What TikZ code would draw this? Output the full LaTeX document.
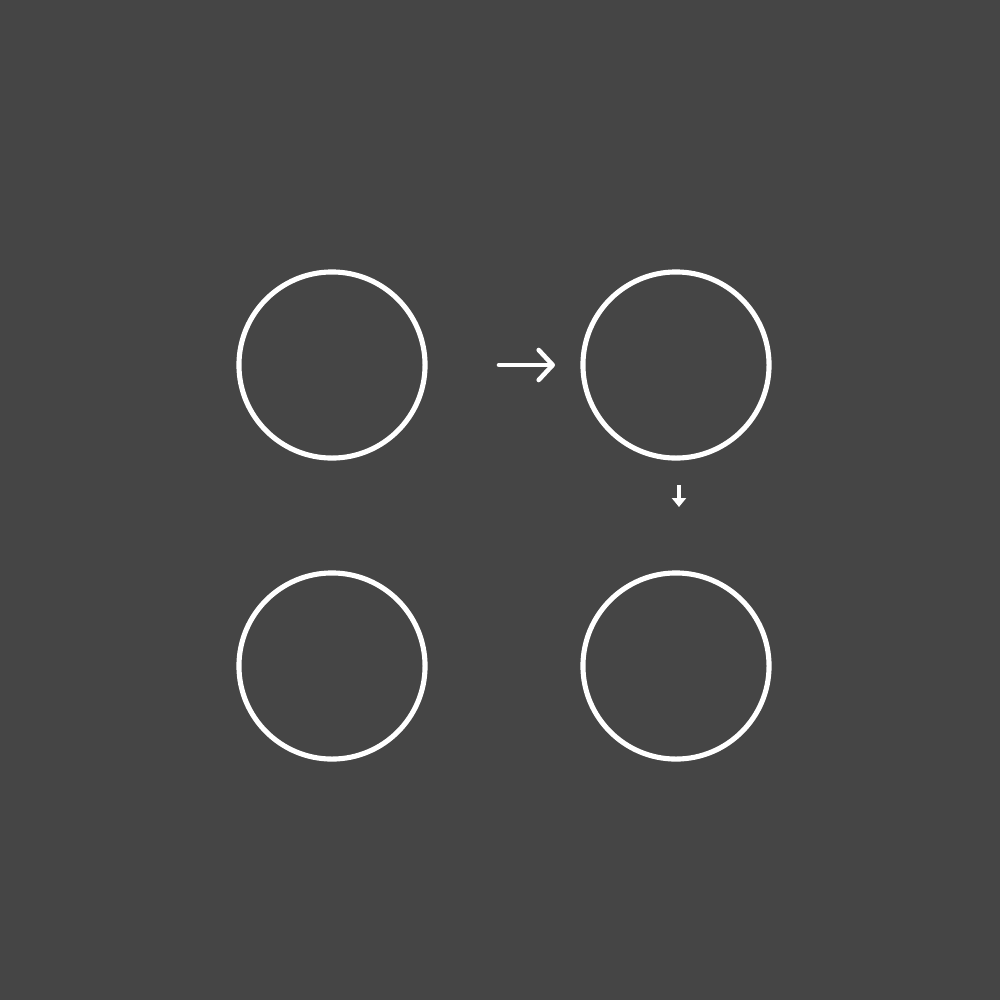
\documentclass[tikz,border=0pt]{standalone}
\usetikzlibrary{arrows.meta}
\definecolor{bg}{HTML}{454545}
\begin{document}
\begin{tikzpicture}[x=0.01cm,y=-0.01cm,
  ring/.style={circle,draw=white,line width=1.45pt,minimum size=1.86cm,inner sep=0pt},
  link/.style={white,line width=1.3pt,line cap=round}]
\fill[bg] (0,0) rectangle (1000,1000);
\useasboundingbox (0,0) rectangle (1000,1000);
\node[ring] (tl) at (332,365) {};
\node[ring] (tr) at (676,365) {};
\node[ring] (bl) at (332,666) {};
\node[ring] (br) at (676,666) {};
\coordinate (a1) at (499,365);
\coordinate (a2) at (555,365);
\coordinate (d1) at (679,485);
\coordinate (d2) at (679,507);
\draw[link,-{Straight Barb[length=0.14cm,width=0.3cm,line cap=round,round]}] (a1) -- (a2);
\draw[white,line width=1pt,-{Triangle[length=0.09cm,width=0.14cm]}] (d1) -- (d2);
\end{tikzpicture}
\end{document}
